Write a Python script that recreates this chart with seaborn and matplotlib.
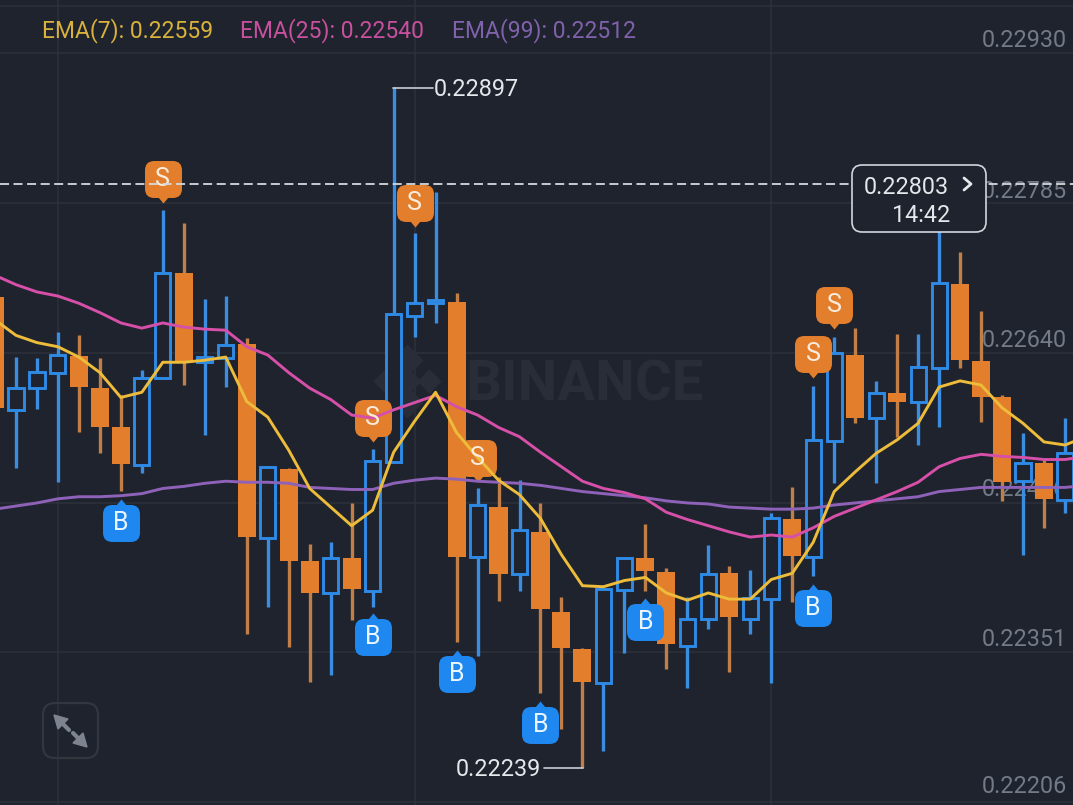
import numpy as np
import matplotlib
matplotlib.use("Agg")
import matplotlib.pyplot as plt
from matplotlib.patches import FancyBboxPatch, Polygon
from matplotlib.path import Path
from matplotlib.transforms import Affine2D
import seaborn as sns

# candles, prices in units of 1e-5
highs = [22701, 22636, 22635, 22660, 22657, 22635, 22599, 22624, 22778, 22766, 22692, 22695, 22654,
         22531, 22529, 22455, 22457, 22495, 22547, 22897, 22756, 22796, 22698, 22509, 22520, 22517,
         22495, 22404, 22355, 22413, 22443, 22475, 22432, 22404, 22454, 22434, 22430, 22485, 22510,
         22608, 22655, 22664, 22613, 22658, 22658, 22764, 22738, 22681, 22599, 22563, 22537, 22577]
lows = [22575, 22529, 22586, 22515, 22564, 22543, 22507, 22524, 22615, 22609, 22561, 22607, 22368,
        22394, 22356, 22322, 22329, 22382, 22394, 22535, 22655, 22669, 22361, 22347, 22400, 22410,
        22311, 22276, 22239, 22255, 22350, 22410, 22334, 22316, 22373, 22332, 22368, 22321, 22399,
        22424, 22514, 22572, 22514, 22559, 22551, 22568, 22625, 22573, 22497, 22445, 22471, 22485]
opens = [22694, 22585, 22606, 22621, 22637, 22606, 22568, 22532, 22616, 22717, 22631, 22635, 22649,
         22461, 22528, 22439, 22408, 22442, 22410, 22535, 22676, 22688, 22689, 22443, 22491, 22426,
         22467, 22390, 22354, 22321, 22411, 22442, 22428, 22357, 22383, 22427, 22383, 22402, 22479,
         22443, 22555, 22638, 22577, 22601, 22593, 22625, 22707, 22632, 22597, 22516, 22534, 22498]
closes = [22587, 22606, 22622, 22638, 22607, 22568, 22533, 22616, 22717, 22631, 22636, 22648, 22462,
          22530, 22439, 22408, 22442, 22412, 22536, 22678, 22688, 22691, 22443, 22493, 22426, 22469,
          22392, 22355, 22322, 22412, 22442, 22429, 22359, 22383, 22426, 22385, 22403, 22480, 22444,
          22556, 22640, 22577, 22601, 22593, 22626, 22708, 22633, 22597, 22515, 22534, 22499, 22543]

ema7 = [22672, 22657, 22650, 22646, 22636, 22621, 22597, 22602, 22631, 22631, 22633, 22636, 22593,
        22578, 22546, 22509, 22491, 22473, 22488, 22544, 22574, 22602, 22563, 22539, 22517, 22503,
        22480, 22445, 22415, 22414, 22420, 22423, 22408, 22401, 22408, 22402, 22402, 22421, 22427,
        22457, 22506, 22525, 22543, 22556, 22572, 22607, 22613, 22609, 22587, 22572, 22554, 22551, 22559]
ema25 = [22715, 22706, 22699, 22695, 22688, 22679, 22669, 22664, 22669, 22665, 22663, 22662, 22646,
         22638, 22621, 22606, 22595, 22580, 22577, 22585, 22592, 22599, 22588, 22580, 22568, 22559,
         22544, 22530, 22516, 22509, 22505, 22499, 22486, 22479, 22473, 22467, 22462, 22464, 22462,
         22471, 22482, 22490, 22498, 22506, 22515, 22530, 22538, 22542, 22540, 22539, 22537, 22537, 22540]
ema99 = [22489, 22492, 22495, 22499, 22501, 22501, 22502, 22504, 22509, 22511, 22514, 22516, 22515,
         22515, 22514, 22510, 22509, 22508, 22508, 22514, 22517, 22519, 22518, 22516, 22515, 22514,
         22512, 22509, 22506, 22504, 22502, 22500, 22497, 22495, 22494, 22491, 22490, 22489, 22489,
         22490, 22493, 22495, 22497, 22499, 22501, 22506, 22508, 22510, 22510, 22510, 22510, 22510, 22512]

# trade markers: candle index, price at the middle of the bubble
sell_idx = [8, 18, 20, 23, 39, 40]
sell_price = [22808, 22577, 22785, 22538, 22639, 22686]
buy_idx = [6, 18, 22, 26, 31, 39]
buy_price = [22476, 22365, 22330, 22280, 22380, 22393]

grid_prices = [22975, 22930, 22785, 22640, 22495, 22351, 22206]
grid_idx = [3, 20, 37]
tick_labels = ["0.22930", "0.22785", "0.22640", "0.22496", "0.22351", "0.22206"]
last_price = 22803

BG = "#1E232D"
GRID = "#2C313B"
UP = "#2F8AE5"
DOWN = "#E37F2C"
UP_WICK = "#3A8DE0"
DOWN_WICK = "#C17F47"
TICK = "#747B88"
WHITE = "#E4E7EB"
MARK = "#282D38"

sns.set_theme(style="dark", rc={"axes.facecolor": BG, "figure.facecolor": BG})
plt.rcParams["font.family"] = ["Roboto", "DejaVu Sans"]

fig = plt.figure(figsize=(10.73, 8.05), dpi=100)
ax = fig.add_axes([0, 0, 1, 1])

# screen pixels, y downwards, for the app chrome
px = Affine2D().scale(1, -1).translate(0, 805)

x = np.arange(len(highs))
opens_a, closes_a = np.array(opens), np.array(closes)
up = closes_a > opens_a

# grid
ax.hlines(grid_prices, -2, 60, color=GRID, lw=1.1, zorder=1)
ax.vlines(grid_idx, 22000, 23100, color=GRID, lw=1.1, zorder=1)

# watermark
ax.text(465, 385, "BINANCE", transform=px, color=MARK, fontsize=40.5, fontweight="bold",
        va="center", ha="left", zorder=1.5)
for cx, cy, s in [(407, 360, 13), (385, 381, 10), (429, 381, 10), (407, 381, 11), (407, 402, 13)]:
    ax.plot([cx], [cy], marker="D", ms=s * 1.25, color=MARK, mec="none", transform=px, zorder=1.5)

# axis labels sit under the candles
label_y = [40, 191, 340, 489, 639, 786]
for txt, ly in zip(tick_labels, label_y):
    ax.text(982, ly, txt, transform=px, color=TICK, fontsize=16.8, va="center", ha="left", zorder=2)

# candles
ax.vlines(x, lows, highs, colors=[UP_WICK if u else DOWN_WICK for u in up], lw=2.4, zorder=3)
ax.bar(x[~up], (closes_a - opens_a)[~up], bottom=opens_a[~up], width=0.86, color=DOWN, lw=0, zorder=4)
ax.bar(x[up], (closes_a - opens_a)[up], bottom=opens_a[up], width=0.72, facecolor=BG,
       edgecolor=UP, linewidth=2.1, zorder=4)


# bubble marker, origin in the middle of the body
def bubble(flip=False):
    r = 0.5
    verts = [(-1 + r, 1), (1 - r, 1), (1, 1), (1, 1 - r), (1, -1 + r), (1, -1), (1 - r, -1),
             (0.25, -1), (0, -1.3), (-0.25, -1), (-1 + r, -1), (-1, -1), (-1, -1 + r),
             (-1, 1 - r), (-1, 1), (-1 + r, 1), (-1 + r, 1)]
    codes = [Path.MOVETO, Path.LINETO, Path.CURVE3, Path.CURVE3, Path.LINETO, Path.CURVE3, Path.CURVE3,
             Path.LINETO, Path.LINETO, Path.LINETO, Path.LINETO, Path.CURVE3, Path.CURVE3,
             Path.LINETO, Path.CURVE3, Path.CURVE3, Path.CLOSEPOLY]
    v = np.array(verts)
    if flip:
        v = v * [1, -1]
    return Path(v, codes)


ax.plot(sell_idx, sell_price, ls="none", marker=bubble(), ms=34.6, color=DOWN, mec="none", zorder=5)
ax.plot(buy_idx, buy_price, ls="none", marker=bubble(True), ms=34.6, color="#1E88F0", mec="none", zorder=5)

# EMA lines
sns.lineplot(x=np.arange(len(ema99)), y=ema99, color="#8E62B8", lw=2.1, errorbar=None, ax=ax, zorder=6)
sns.lineplot(x=np.arange(len(ema25)), y=ema25, color="#D64FA9", lw=2.1, errorbar=None, ax=ax, zorder=6.1)
sns.lineplot(x=np.arange(len(ema7)), y=ema7, color="#EDBC3B", lw=2.1, errorbar=None, ax=ax, zorder=6.2)

for i, p in zip(sell_idx, sell_price):
    ax.text(i, p, "S", color="#FBEBDC", fontsize=18, ha="center", va="center", zorder=7)
for i, p in zip(buy_idx, buy_price):
    ax.text(i, p, "B", color="#EAF6FF", fontsize=18, ha="center", va="center", zorder=7)

# last price line
ax.axhline(last_price, color="#D5D8DD", lw=1.3, dashes=(5, 2.5), zorder=8)

# high / low callouts
ax.plot([393, 433], [88, 88], transform=px, color="#C9CDD3", lw=1.2, zorder=8)
ax.text(434, 89, "0.22897", transform=px, color=WHITE, fontsize=16.8, va="center", ha="left", zorder=8)
ax.plot([544, 583], [768, 768], transform=px, color="#C9CDD3", lw=1.2, zorder=8)
ax.text(541, 769, "0.22239", transform=px, color=WHITE, fontsize=16.8, va="center", ha="right", zorder=8)

# last price box
box = FancyBboxPatch((852, 165), 134, 67, boxstyle="round,pad=0,rounding_size=10", transform=px,
                     facecolor=BG, edgecolor="#D3D7DC", lw=1.2, zorder=9)
ax.add_patch(box)
ax.text(906, 187, "0.22803", transform=px, color=WHITE, fontsize=16.8, va="center", ha="center", zorder=10)
ax.text(921, 215, "14:42", transform=px, color=WHITE, fontsize=16.8, va="center", ha="center", zorder=10)
ax.plot([964, 971, 964], [178, 184, 190], transform=px, color=WHITE, lw=2, zorder=10)

# legend row
for lx, txt, col in [(42, "EMA(7): 0.22559", "#D9B23C"),
                     (240, "EMA(25): 0.22540", "#C8509E"),
                     (452, "EMA(99): 0.22512", "#8062AC")]:
    ax.text(lx, 31, txt, transform=px, color=col, fontsize=16.5, va="center", ha="left", zorder=10)

# expand button
ax.add_patch(FancyBboxPatch((43, 703), 55, 55, boxstyle="round,pad=0,rounding_size=12", transform=px,
                            facecolor="none", edgecolor="#31363F", lw=1.6, zorder=10))
ax.add_patch(Polygon([(54, 715), (68, 719), (58, 729)], transform=px, color="#7D838F", zorder=10))
ax.add_patch(Polygon([(87, 747), (73, 743), (83, 733)], transform=px, color="#7D838F", zorder=10))
ax.plot([62, 69], [723, 730], transform=px, color="#7D838F", lw=3, zorder=10)
ax.plot([79, 73], [739, 733], transform=px, color="#7D838F", lw=3, zorder=10)

# 20.98 px per candle, candle 0 sits at x = -5
ax.set_xlim(5 / 20.98, 1078 / 20.98)
ax.set_ylim(22203.0, 22981.2)
ax.set_axis_off()
fig.patch.set_facecolor(BG)

fig.savefig("out.png", dpi=100, facecolor=BG)
